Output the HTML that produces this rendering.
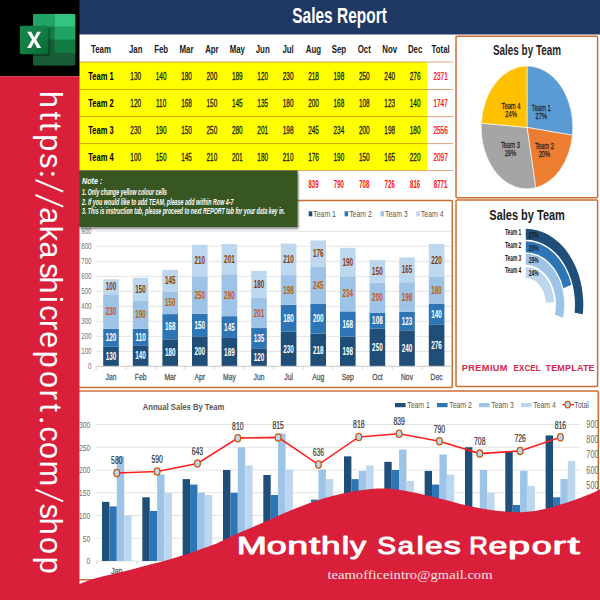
<!DOCTYPE html>
<html><head><meta charset="utf-8"><style>
html,body{margin:0;padding:0;background:#fff;width:600px;height:600px;overflow:hidden}
svg{display:block}
</style></head><body>
<svg width="600" height="600" viewBox="0 0 600 600">
<rect x="0.00" y="0.00" width="600.00" height="600.00" fill="#FFFFFF" />
<rect x="79.00" y="0.00" width="521.00" height="34.50" fill="#1F3864" />
<text x="292.30" y="23.30" font-family='"Liberation Sans", sans-serif' font-size="22" font-weight="bold" fill="#FFFFFF" text-anchor="start" textLength="94.50" lengthAdjust="spacingAndGlyphs" >Sales Report</text>
<rect x="79.00" y="62.00" width="348.30" height="108.40" fill="#FFFF00" />
<text transform="translate(101.00,52.50) scale(0.770,1)" font-family='"Liberation Sans", sans-serif' font-size="10.2" font-weight="bold" fill="#1A1A1A" text-anchor="middle" >Team</text>
<text transform="translate(135.70,52.50) scale(0.770,1)" font-family='"Liberation Sans", sans-serif' font-size="10.2" font-weight="bold" fill="#1A1A1A" text-anchor="middle" >Jan</text>
<text transform="translate(161.10,52.50) scale(0.770,1)" font-family='"Liberation Sans", sans-serif' font-size="10.2" font-weight="bold" fill="#1A1A1A" text-anchor="middle" >Feb</text>
<text transform="translate(186.50,52.50) scale(0.770,1)" font-family='"Liberation Sans", sans-serif' font-size="10.2" font-weight="bold" fill="#1A1A1A" text-anchor="middle" >Mar</text>
<text transform="translate(211.90,52.50) scale(0.770,1)" font-family='"Liberation Sans", sans-serif' font-size="10.2" font-weight="bold" fill="#1A1A1A" text-anchor="middle" >Apr</text>
<text transform="translate(237.30,52.50) scale(0.770,1)" font-family='"Liberation Sans", sans-serif' font-size="10.2" font-weight="bold" fill="#1A1A1A" text-anchor="middle" >May</text>
<text transform="translate(262.70,52.50) scale(0.770,1)" font-family='"Liberation Sans", sans-serif' font-size="10.2" font-weight="bold" fill="#1A1A1A" text-anchor="middle" >Jun</text>
<text transform="translate(288.10,52.50) scale(0.770,1)" font-family='"Liberation Sans", sans-serif' font-size="10.2" font-weight="bold" fill="#1A1A1A" text-anchor="middle" >Jul</text>
<text transform="translate(313.50,52.50) scale(0.770,1)" font-family='"Liberation Sans", sans-serif' font-size="10.2" font-weight="bold" fill="#1A1A1A" text-anchor="middle" >Aug</text>
<text transform="translate(338.90,52.50) scale(0.770,1)" font-family='"Liberation Sans", sans-serif' font-size="10.2" font-weight="bold" fill="#1A1A1A" text-anchor="middle" >Sep</text>
<text transform="translate(364.30,52.50) scale(0.770,1)" font-family='"Liberation Sans", sans-serif' font-size="10.2" font-weight="bold" fill="#1A1A1A" text-anchor="middle" >Oct</text>
<text transform="translate(389.70,52.50) scale(0.770,1)" font-family='"Liberation Sans", sans-serif' font-size="10.2" font-weight="bold" fill="#1A1A1A" text-anchor="middle" >Nov</text>
<text transform="translate(415.10,52.50) scale(0.770,1)" font-family='"Liberation Sans", sans-serif' font-size="10.2" font-weight="bold" fill="#1A1A1A" text-anchor="middle" >Dec</text>
<text transform="translate(440.60,52.50) scale(0.770,1)" font-family='"Liberation Sans", sans-serif' font-size="10.2" font-weight="bold" fill="#1A1A1A" text-anchor="middle" >Total</text>
<text transform="translate(101.00,79.70) scale(0.740,1)" font-family='"Liberation Sans", sans-serif' font-size="10.2" font-weight="bold" fill="#000000" text-anchor="middle" >Team 1</text>
<text transform="translate(135.70,79.70) scale(0.620,1)" font-family='"Liberation Sans", sans-serif' font-size="10.4" font-weight="normal" fill="#1A1A1A" text-anchor="middle" stroke="#1A1A1A" stroke-width="0.3">130</text>
<text transform="translate(161.10,79.70) scale(0.620,1)" font-family='"Liberation Sans", sans-serif' font-size="10.4" font-weight="normal" fill="#1A1A1A" text-anchor="middle" stroke="#1A1A1A" stroke-width="0.3">140</text>
<text transform="translate(186.50,79.70) scale(0.620,1)" font-family='"Liberation Sans", sans-serif' font-size="10.4" font-weight="normal" fill="#1A1A1A" text-anchor="middle" stroke="#1A1A1A" stroke-width="0.3">180</text>
<text transform="translate(211.90,79.70) scale(0.620,1)" font-family='"Liberation Sans", sans-serif' font-size="10.4" font-weight="normal" fill="#1A1A1A" text-anchor="middle" stroke="#1A1A1A" stroke-width="0.3">200</text>
<text transform="translate(237.30,79.70) scale(0.620,1)" font-family='"Liberation Sans", sans-serif' font-size="10.4" font-weight="normal" fill="#1A1A1A" text-anchor="middle" stroke="#1A1A1A" stroke-width="0.3">189</text>
<text transform="translate(262.70,79.70) scale(0.620,1)" font-family='"Liberation Sans", sans-serif' font-size="10.4" font-weight="normal" fill="#1A1A1A" text-anchor="middle" stroke="#1A1A1A" stroke-width="0.3">120</text>
<text transform="translate(288.10,79.70) scale(0.620,1)" font-family='"Liberation Sans", sans-serif' font-size="10.4" font-weight="normal" fill="#1A1A1A" text-anchor="middle" stroke="#1A1A1A" stroke-width="0.3">230</text>
<text transform="translate(313.50,79.70) scale(0.620,1)" font-family='"Liberation Sans", sans-serif' font-size="10.4" font-weight="normal" fill="#1A1A1A" text-anchor="middle" stroke="#1A1A1A" stroke-width="0.3">218</text>
<text transform="translate(338.90,79.70) scale(0.620,1)" font-family='"Liberation Sans", sans-serif' font-size="10.4" font-weight="normal" fill="#1A1A1A" text-anchor="middle" stroke="#1A1A1A" stroke-width="0.3">198</text>
<text transform="translate(364.30,79.70) scale(0.620,1)" font-family='"Liberation Sans", sans-serif' font-size="10.4" font-weight="normal" fill="#1A1A1A" text-anchor="middle" stroke="#1A1A1A" stroke-width="0.3">250</text>
<text transform="translate(389.70,79.70) scale(0.620,1)" font-family='"Liberation Sans", sans-serif' font-size="10.4" font-weight="normal" fill="#1A1A1A" text-anchor="middle" stroke="#1A1A1A" stroke-width="0.3">240</text>
<text transform="translate(415.10,79.70) scale(0.620,1)" font-family='"Liberation Sans", sans-serif' font-size="10.4" font-weight="normal" fill="#1A1A1A" text-anchor="middle" stroke="#1A1A1A" stroke-width="0.3">276</text>
<text transform="translate(440.60,79.70) scale(0.630,1)" font-family='"Liberation Sans", sans-serif' font-size="10.2" font-weight="normal" fill="#FF0000" text-anchor="middle" stroke="#FF0000" stroke-width="0.25">2371</text>
<text transform="translate(101.00,106.80) scale(0.740,1)" font-family='"Liberation Sans", sans-serif' font-size="10.2" font-weight="bold" fill="#000000" text-anchor="middle" >Team 2</text>
<text transform="translate(135.70,106.80) scale(0.620,1)" font-family='"Liberation Sans", sans-serif' font-size="10.4" font-weight="normal" fill="#1A1A1A" text-anchor="middle" stroke="#1A1A1A" stroke-width="0.3">120</text>
<text transform="translate(161.10,106.80) scale(0.620,1)" font-family='"Liberation Sans", sans-serif' font-size="10.4" font-weight="normal" fill="#1A1A1A" text-anchor="middle" stroke="#1A1A1A" stroke-width="0.3">110</text>
<text transform="translate(186.50,106.80) scale(0.620,1)" font-family='"Liberation Sans", sans-serif' font-size="10.4" font-weight="normal" fill="#1A1A1A" text-anchor="middle" stroke="#1A1A1A" stroke-width="0.3">168</text>
<text transform="translate(211.90,106.80) scale(0.620,1)" font-family='"Liberation Sans", sans-serif' font-size="10.4" font-weight="normal" fill="#1A1A1A" text-anchor="middle" stroke="#1A1A1A" stroke-width="0.3">150</text>
<text transform="translate(237.30,106.80) scale(0.620,1)" font-family='"Liberation Sans", sans-serif' font-size="10.4" font-weight="normal" fill="#1A1A1A" text-anchor="middle" stroke="#1A1A1A" stroke-width="0.3">145</text>
<text transform="translate(262.70,106.80) scale(0.620,1)" font-family='"Liberation Sans", sans-serif' font-size="10.4" font-weight="normal" fill="#1A1A1A" text-anchor="middle" stroke="#1A1A1A" stroke-width="0.3">135</text>
<text transform="translate(288.10,106.80) scale(0.620,1)" font-family='"Liberation Sans", sans-serif' font-size="10.4" font-weight="normal" fill="#1A1A1A" text-anchor="middle" stroke="#1A1A1A" stroke-width="0.3">180</text>
<text transform="translate(313.50,106.80) scale(0.620,1)" font-family='"Liberation Sans", sans-serif' font-size="10.4" font-weight="normal" fill="#1A1A1A" text-anchor="middle" stroke="#1A1A1A" stroke-width="0.3">200</text>
<text transform="translate(338.90,106.80) scale(0.620,1)" font-family='"Liberation Sans", sans-serif' font-size="10.4" font-weight="normal" fill="#1A1A1A" text-anchor="middle" stroke="#1A1A1A" stroke-width="0.3">168</text>
<text transform="translate(364.30,106.80) scale(0.620,1)" font-family='"Liberation Sans", sans-serif' font-size="10.4" font-weight="normal" fill="#1A1A1A" text-anchor="middle" stroke="#1A1A1A" stroke-width="0.3">108</text>
<text transform="translate(389.70,106.80) scale(0.620,1)" font-family='"Liberation Sans", sans-serif' font-size="10.4" font-weight="normal" fill="#1A1A1A" text-anchor="middle" stroke="#1A1A1A" stroke-width="0.3">123</text>
<text transform="translate(415.10,106.80) scale(0.620,1)" font-family='"Liberation Sans", sans-serif' font-size="10.4" font-weight="normal" fill="#1A1A1A" text-anchor="middle" stroke="#1A1A1A" stroke-width="0.3">140</text>
<text transform="translate(440.60,106.80) scale(0.630,1)" font-family='"Liberation Sans", sans-serif' font-size="10.2" font-weight="normal" fill="#FF0000" text-anchor="middle" stroke="#FF0000" stroke-width="0.25">1747</text>
<text transform="translate(101.00,133.90) scale(0.740,1)" font-family='"Liberation Sans", sans-serif' font-size="10.2" font-weight="bold" fill="#000000" text-anchor="middle" >Team 3</text>
<text transform="translate(135.70,133.90) scale(0.620,1)" font-family='"Liberation Sans", sans-serif' font-size="10.4" font-weight="normal" fill="#1A1A1A" text-anchor="middle" stroke="#1A1A1A" stroke-width="0.3">230</text>
<text transform="translate(161.10,133.90) scale(0.620,1)" font-family='"Liberation Sans", sans-serif' font-size="10.4" font-weight="normal" fill="#1A1A1A" text-anchor="middle" stroke="#1A1A1A" stroke-width="0.3">190</text>
<text transform="translate(186.50,133.90) scale(0.620,1)" font-family='"Liberation Sans", sans-serif' font-size="10.4" font-weight="normal" fill="#1A1A1A" text-anchor="middle" stroke="#1A1A1A" stroke-width="0.3">150</text>
<text transform="translate(211.90,133.90) scale(0.620,1)" font-family='"Liberation Sans", sans-serif' font-size="10.4" font-weight="normal" fill="#1A1A1A" text-anchor="middle" stroke="#1A1A1A" stroke-width="0.3">250</text>
<text transform="translate(237.30,133.90) scale(0.620,1)" font-family='"Liberation Sans", sans-serif' font-size="10.4" font-weight="normal" fill="#1A1A1A" text-anchor="middle" stroke="#1A1A1A" stroke-width="0.3">280</text>
<text transform="translate(262.70,133.90) scale(0.620,1)" font-family='"Liberation Sans", sans-serif' font-size="10.4" font-weight="normal" fill="#1A1A1A" text-anchor="middle" stroke="#1A1A1A" stroke-width="0.3">201</text>
<text transform="translate(288.10,133.90) scale(0.620,1)" font-family='"Liberation Sans", sans-serif' font-size="10.4" font-weight="normal" fill="#1A1A1A" text-anchor="middle" stroke="#1A1A1A" stroke-width="0.3">198</text>
<text transform="translate(313.50,133.90) scale(0.620,1)" font-family='"Liberation Sans", sans-serif' font-size="10.4" font-weight="normal" fill="#1A1A1A" text-anchor="middle" stroke="#1A1A1A" stroke-width="0.3">245</text>
<text transform="translate(338.90,133.90) scale(0.620,1)" font-family='"Liberation Sans", sans-serif' font-size="10.4" font-weight="normal" fill="#1A1A1A" text-anchor="middle" stroke="#1A1A1A" stroke-width="0.3">234</text>
<text transform="translate(364.30,133.90) scale(0.620,1)" font-family='"Liberation Sans", sans-serif' font-size="10.4" font-weight="normal" fill="#1A1A1A" text-anchor="middle" stroke="#1A1A1A" stroke-width="0.3">200</text>
<text transform="translate(389.70,133.90) scale(0.620,1)" font-family='"Liberation Sans", sans-serif' font-size="10.4" font-weight="normal" fill="#1A1A1A" text-anchor="middle" stroke="#1A1A1A" stroke-width="0.3">198</text>
<text transform="translate(415.10,133.90) scale(0.620,1)" font-family='"Liberation Sans", sans-serif' font-size="10.4" font-weight="normal" fill="#1A1A1A" text-anchor="middle" stroke="#1A1A1A" stroke-width="0.3">180</text>
<text transform="translate(440.60,133.90) scale(0.630,1)" font-family='"Liberation Sans", sans-serif' font-size="10.2" font-weight="normal" fill="#FF0000" text-anchor="middle" stroke="#FF0000" stroke-width="0.25">2556</text>
<text transform="translate(101.00,160.90) scale(0.740,1)" font-family='"Liberation Sans", sans-serif' font-size="10.2" font-weight="bold" fill="#000000" text-anchor="middle" >Team 4</text>
<text transform="translate(135.70,160.90) scale(0.620,1)" font-family='"Liberation Sans", sans-serif' font-size="10.4" font-weight="normal" fill="#1A1A1A" text-anchor="middle" stroke="#1A1A1A" stroke-width="0.3">100</text>
<text transform="translate(161.10,160.90) scale(0.620,1)" font-family='"Liberation Sans", sans-serif' font-size="10.4" font-weight="normal" fill="#1A1A1A" text-anchor="middle" stroke="#1A1A1A" stroke-width="0.3">150</text>
<text transform="translate(186.50,160.90) scale(0.620,1)" font-family='"Liberation Sans", sans-serif' font-size="10.4" font-weight="normal" fill="#1A1A1A" text-anchor="middle" stroke="#1A1A1A" stroke-width="0.3">145</text>
<text transform="translate(211.90,160.90) scale(0.620,1)" font-family='"Liberation Sans", sans-serif' font-size="10.4" font-weight="normal" fill="#1A1A1A" text-anchor="middle" stroke="#1A1A1A" stroke-width="0.3">210</text>
<text transform="translate(237.30,160.90) scale(0.620,1)" font-family='"Liberation Sans", sans-serif' font-size="10.4" font-weight="normal" fill="#1A1A1A" text-anchor="middle" stroke="#1A1A1A" stroke-width="0.3">201</text>
<text transform="translate(262.70,160.90) scale(0.620,1)" font-family='"Liberation Sans", sans-serif' font-size="10.4" font-weight="normal" fill="#1A1A1A" text-anchor="middle" stroke="#1A1A1A" stroke-width="0.3">180</text>
<text transform="translate(288.10,160.90) scale(0.620,1)" font-family='"Liberation Sans", sans-serif' font-size="10.4" font-weight="normal" fill="#1A1A1A" text-anchor="middle" stroke="#1A1A1A" stroke-width="0.3">210</text>
<text transform="translate(313.50,160.90) scale(0.620,1)" font-family='"Liberation Sans", sans-serif' font-size="10.4" font-weight="normal" fill="#1A1A1A" text-anchor="middle" stroke="#1A1A1A" stroke-width="0.3">176</text>
<text transform="translate(338.90,160.90) scale(0.620,1)" font-family='"Liberation Sans", sans-serif' font-size="10.4" font-weight="normal" fill="#1A1A1A" text-anchor="middle" stroke="#1A1A1A" stroke-width="0.3">190</text>
<text transform="translate(364.30,160.90) scale(0.620,1)" font-family='"Liberation Sans", sans-serif' font-size="10.4" font-weight="normal" fill="#1A1A1A" text-anchor="middle" stroke="#1A1A1A" stroke-width="0.3">150</text>
<text transform="translate(389.70,160.90) scale(0.620,1)" font-family='"Liberation Sans", sans-serif' font-size="10.4" font-weight="normal" fill="#1A1A1A" text-anchor="middle" stroke="#1A1A1A" stroke-width="0.3">165</text>
<text transform="translate(415.10,160.90) scale(0.620,1)" font-family='"Liberation Sans", sans-serif' font-size="10.4" font-weight="normal" fill="#1A1A1A" text-anchor="middle" stroke="#1A1A1A" stroke-width="0.3">220</text>
<text transform="translate(440.60,160.90) scale(0.630,1)" font-family='"Liberation Sans", sans-serif' font-size="10.2" font-weight="normal" fill="#FF0000" text-anchor="middle" stroke="#FF0000" stroke-width="0.25">2097</text>
<text transform="translate(135.70,188.30) scale(0.600,1)" font-family='"Liberation Sans", sans-serif' font-size="10.2" font-weight="bold" fill="#FF1010" text-anchor="middle" >580</text>
<text transform="translate(161.10,188.30) scale(0.600,1)" font-family='"Liberation Sans", sans-serif' font-size="10.2" font-weight="bold" fill="#FF1010" text-anchor="middle" >590</text>
<text transform="translate(186.50,188.30) scale(0.600,1)" font-family='"Liberation Sans", sans-serif' font-size="10.2" font-weight="bold" fill="#FF1010" text-anchor="middle" >643</text>
<text transform="translate(211.90,188.30) scale(0.600,1)" font-family='"Liberation Sans", sans-serif' font-size="10.2" font-weight="bold" fill="#FF1010" text-anchor="middle" >810</text>
<text transform="translate(237.30,188.30) scale(0.600,1)" font-family='"Liberation Sans", sans-serif' font-size="10.2" font-weight="bold" fill="#FF1010" text-anchor="middle" >815</text>
<text transform="translate(262.70,188.30) scale(0.600,1)" font-family='"Liberation Sans", sans-serif' font-size="10.2" font-weight="bold" fill="#FF1010" text-anchor="middle" >636</text>
<text transform="translate(288.10,188.30) scale(0.600,1)" font-family='"Liberation Sans", sans-serif' font-size="10.2" font-weight="bold" fill="#FF1010" text-anchor="middle" >818</text>
<text transform="translate(313.50,188.30) scale(0.600,1)" font-family='"Liberation Sans", sans-serif' font-size="10.2" font-weight="bold" fill="#FF1010" text-anchor="middle" >839</text>
<text transform="translate(338.90,188.30) scale(0.600,1)" font-family='"Liberation Sans", sans-serif' font-size="10.2" font-weight="bold" fill="#FF1010" text-anchor="middle" >790</text>
<text transform="translate(364.30,188.30) scale(0.600,1)" font-family='"Liberation Sans", sans-serif' font-size="10.2" font-weight="bold" fill="#FF1010" text-anchor="middle" >708</text>
<text transform="translate(389.70,188.30) scale(0.600,1)" font-family='"Liberation Sans", sans-serif' font-size="10.2" font-weight="bold" fill="#FF1010" text-anchor="middle" >726</text>
<text transform="translate(415.10,188.30) scale(0.600,1)" font-family='"Liberation Sans", sans-serif' font-size="10.2" font-weight="bold" fill="#FF1010" text-anchor="middle" >816</text>
<text transform="translate(440.60,188.30) scale(0.600,1)" font-family='"Liberation Sans", sans-serif' font-size="10.2" font-weight="bold" fill="#FF1010" text-anchor="middle" >8771</text>
<line x1="79.00" y1="62.00" x2="453.00" y2="62.00" stroke="#C55A11" stroke-width="1" stroke-opacity="0.55"/>
<line x1="79.00" y1="89.50" x2="453.00" y2="89.50" stroke="#C55A11" stroke-width="1" stroke-opacity="0.55"/>
<line x1="79.00" y1="116.60" x2="453.00" y2="116.60" stroke="#C55A11" stroke-width="1" stroke-opacity="0.55"/>
<line x1="79.00" y1="143.60" x2="453.00" y2="143.60" stroke="#C55A11" stroke-width="1" stroke-opacity="0.55"/>
<line x1="79.00" y1="170.60" x2="453.00" y2="170.60" stroke="#C55A11" stroke-width="1" stroke-opacity="0.55"/>
<rect x="456" y="36.2" width="141.6" height="161.5" rx="1.2" fill="#FFFFFF" stroke="#CD6E33" stroke-width="1.5"/>
<text x="493.00" y="55.10" font-family='"Liberation Sans", sans-serif' font-size="15" font-weight="bold" fill="#1F1F1F" text-anchor="start" textLength="68.00" lengthAdjust="spacingAndGlyphs" >Sales by Team</text>
<path d="M527.0,127.4 L527.00,66.00 A45.8,61.4 0 0 1 572.43,135.22 Z" fill="#5B9BD5" stroke="#FFFFFF" stroke-width="0.6" stroke-linejoin="round"/>
<path d="M527.0,127.4 L572.43,135.22 A45.8,61.4 0 0 1 535.72,187.68 Z" fill="#ED7D31" stroke="#FFFFFF" stroke-width="0.6" stroke-linejoin="round"/>
<path d="M527.0,127.4 L535.72,187.68 A45.8,61.4 0 0 1 481.31,123.19 Z" fill="#A5A5A5" stroke="#FFFFFF" stroke-width="0.6" stroke-linejoin="round"/>
<path d="M527.0,127.4 L481.31,123.19 A45.8,61.4 0 0 1 527.00,66.00 Z" fill="#FFC000" stroke="#FFFFFF" stroke-width="0.6" stroke-linejoin="round"/>
<text transform="translate(541.30,111.00) scale(0.640,1)" font-family='"Liberation Sans", sans-serif' font-size="9" font-weight="normal" fill="#262626" text-anchor="middle" stroke="#262626" stroke-width="0.25">Team 1</text>
<text transform="translate(541.30,119.30) scale(0.640,1)" font-family='"Liberation Sans", sans-serif' font-size="9" font-weight="normal" fill="#262626" text-anchor="middle" stroke="#262626" stroke-width="0.25">27%</text>
<text transform="translate(544.40,148.90) scale(0.640,1)" font-family='"Liberation Sans", sans-serif' font-size="9" font-weight="normal" fill="#262626" text-anchor="middle" stroke="#262626" stroke-width="0.25">Team 2</text>
<text transform="translate(544.40,157.20) scale(0.640,1)" font-family='"Liberation Sans", sans-serif' font-size="9" font-weight="normal" fill="#262626" text-anchor="middle" stroke="#262626" stroke-width="0.25">20%</text>
<text transform="translate(510.40,148.10) scale(0.640,1)" font-family='"Liberation Sans", sans-serif' font-size="9" font-weight="normal" fill="#262626" text-anchor="middle" stroke="#262626" stroke-width="0.25">Team 3</text>
<text transform="translate(510.40,156.40) scale(0.640,1)" font-family='"Liberation Sans", sans-serif' font-size="9" font-weight="normal" fill="#262626" text-anchor="middle" stroke="#262626" stroke-width="0.25">29%</text>
<text transform="translate(511.00,108.70) scale(0.640,1)" font-family='"Liberation Sans", sans-serif' font-size="9" font-weight="normal" fill="#262626" text-anchor="middle" stroke="#262626" stroke-width="0.25">Team 4</text>
<text transform="translate(511.00,117.00) scale(0.640,1)" font-family='"Liberation Sans", sans-serif' font-size="9" font-weight="normal" fill="#262626" text-anchor="middle" stroke="#262626" stroke-width="0.25">24%</text>
<defs><filter id="sh" x="-5%" y="-5%" width="110%" height="130%"><feGaussianBlur in="SourceAlpha" stdDeviation="1.2"/><feOffset dx="1" dy="2"/><feComponentTransfer><feFuncA type="linear" slope="0.45"/></feComponentTransfer><feMerge><feMergeNode/><feMergeNode in="SourceGraphic"/></feMerge></filter></defs>
<rect x="60" y="200.5" width="392.3" height="187.1" rx="1.2" fill="#FFFFFF" stroke="#CD6E33" stroke-width="1.5"/>
<line x1="96.30" y1="366.30" x2="451.00" y2="366.30" stroke="#E3E3E3" stroke-width="1" />
<text transform="translate(91.50,369.10) scale(0.750,1)" font-family='"Liberation Sans", sans-serif' font-size="8.2" font-weight="normal" fill="#707070" text-anchor="end" >0</text>
<line x1="96.30" y1="351.30" x2="451.00" y2="351.30" stroke="#E3E3E3" stroke-width="1" />
<text transform="translate(91.50,354.10) scale(0.750,1)" font-family='"Liberation Sans", sans-serif' font-size="8.2" font-weight="normal" fill="#707070" text-anchor="end" >100</text>
<line x1="96.30" y1="336.30" x2="451.00" y2="336.30" stroke="#E3E3E3" stroke-width="1" />
<text transform="translate(91.50,339.10) scale(0.750,1)" font-family='"Liberation Sans", sans-serif' font-size="8.2" font-weight="normal" fill="#707070" text-anchor="end" >200</text>
<line x1="96.30" y1="321.30" x2="451.00" y2="321.30" stroke="#E3E3E3" stroke-width="1" />
<text transform="translate(91.50,324.10) scale(0.750,1)" font-family='"Liberation Sans", sans-serif' font-size="8.2" font-weight="normal" fill="#707070" text-anchor="end" >300</text>
<line x1="96.30" y1="306.30" x2="451.00" y2="306.30" stroke="#E3E3E3" stroke-width="1" />
<text transform="translate(91.50,309.10) scale(0.750,1)" font-family='"Liberation Sans", sans-serif' font-size="8.2" font-weight="normal" fill="#707070" text-anchor="end" >400</text>
<line x1="96.30" y1="291.30" x2="451.00" y2="291.30" stroke="#E3E3E3" stroke-width="1" />
<text transform="translate(91.50,294.10) scale(0.750,1)" font-family='"Liberation Sans", sans-serif' font-size="8.2" font-weight="normal" fill="#707070" text-anchor="end" >500</text>
<line x1="96.30" y1="276.30" x2="451.00" y2="276.30" stroke="#E3E3E3" stroke-width="1" />
<text transform="translate(91.50,279.10) scale(0.750,1)" font-family='"Liberation Sans", sans-serif' font-size="8.2" font-weight="normal" fill="#707070" text-anchor="end" >600</text>
<line x1="96.30" y1="261.30" x2="451.00" y2="261.30" stroke="#E3E3E3" stroke-width="1" />
<text transform="translate(91.50,264.10) scale(0.750,1)" font-family='"Liberation Sans", sans-serif' font-size="8.2" font-weight="normal" fill="#707070" text-anchor="end" >700</text>
<line x1="96.30" y1="246.30" x2="451.00" y2="246.30" stroke="#E3E3E3" stroke-width="1" />
<text transform="translate(91.50,249.10) scale(0.750,1)" font-family='"Liberation Sans", sans-serif' font-size="8.2" font-weight="normal" fill="#707070" text-anchor="end" >800</text>
<line x1="96.30" y1="231.30" x2="451.00" y2="231.30" stroke="#E3E3E3" stroke-width="1" />
<text transform="translate(91.50,234.10) scale(0.750,1)" font-family='"Liberation Sans", sans-serif' font-size="8.2" font-weight="normal" fill="#707070" text-anchor="end" >900</text>
<rect x="103.20" y="346.80" width="15.60" height="19.50" fill="#1F4E79" />
<text transform="translate(111.00,360.15) scale(0.610,1)" font-family='"Liberation Sans", sans-serif' font-size="10.4" font-weight="bold" fill="#FFFFFF" text-anchor="middle" >130</text>
<rect x="103.20" y="328.80" width="15.60" height="18.00" fill="#2E75B6" />
<text transform="translate(111.00,341.40) scale(0.610,1)" font-family='"Liberation Sans", sans-serif' font-size="10.4" font-weight="bold" fill="#FFFFFF" text-anchor="middle" >120</text>
<rect x="103.20" y="294.30" width="15.60" height="34.50" fill="#9DC3E6" />
<text transform="translate(111.00,315.15) scale(0.610,1)" font-family='"Liberation Sans", sans-serif' font-size="10.4" font-weight="bold" fill="#C55A11" text-anchor="middle" >230</text>
<rect x="103.20" y="279.30" width="15.60" height="15.00" fill="#BDD7EE" />
<text transform="translate(111.00,290.40) scale(0.610,1)" font-family='"Liberation Sans", sans-serif' font-size="10.4" font-weight="bold" fill="#843C0C" text-anchor="middle" >100</text>
<text transform="translate(111.00,380.00) scale(0.720,1)" font-family='"Liberation Sans", sans-serif' font-size="9.4" font-weight="normal" fill="#595959" text-anchor="middle" stroke="#595959" stroke-width="0.3">Jan</text>
<rect x="132.80" y="345.30" width="15.60" height="21.00" fill="#1F4E79" />
<text transform="translate(140.60,359.40) scale(0.610,1)" font-family='"Liberation Sans", sans-serif' font-size="10.4" font-weight="bold" fill="#FFFFFF" text-anchor="middle" >140</text>
<rect x="132.80" y="328.80" width="15.60" height="16.50" fill="#2E75B6" />
<text transform="translate(140.60,340.65) scale(0.610,1)" font-family='"Liberation Sans", sans-serif' font-size="10.4" font-weight="bold" fill="#FFFFFF" text-anchor="middle" >110</text>
<rect x="132.80" y="300.30" width="15.60" height="28.50" fill="#9DC3E6" />
<text transform="translate(140.60,318.15) scale(0.610,1)" font-family='"Liberation Sans", sans-serif' font-size="10.4" font-weight="bold" fill="#C55A11" text-anchor="middle" >190</text>
<rect x="132.80" y="277.80" width="15.60" height="22.50" fill="#BDD7EE" />
<text transform="translate(140.60,292.65) scale(0.610,1)" font-family='"Liberation Sans", sans-serif' font-size="10.4" font-weight="bold" fill="#843C0C" text-anchor="middle" >150</text>
<text transform="translate(140.60,380.00) scale(0.720,1)" font-family='"Liberation Sans", sans-serif' font-size="9.4" font-weight="normal" fill="#595959" text-anchor="middle" stroke="#595959" stroke-width="0.3">Feb</text>
<rect x="162.40" y="339.30" width="15.60" height="27.00" fill="#1F4E79" />
<text transform="translate(170.20,356.40) scale(0.610,1)" font-family='"Liberation Sans", sans-serif' font-size="10.4" font-weight="bold" fill="#FFFFFF" text-anchor="middle" >180</text>
<rect x="162.40" y="314.10" width="15.60" height="25.20" fill="#2E75B6" />
<text transform="translate(170.20,330.30) scale(0.610,1)" font-family='"Liberation Sans", sans-serif' font-size="10.4" font-weight="bold" fill="#FFFFFF" text-anchor="middle" >168</text>
<rect x="162.40" y="291.60" width="15.60" height="22.50" fill="#9DC3E6" />
<text transform="translate(170.20,306.45) scale(0.610,1)" font-family='"Liberation Sans", sans-serif' font-size="10.4" font-weight="bold" fill="#C55A11" text-anchor="middle" >150</text>
<rect x="162.40" y="269.85" width="15.60" height="21.75" fill="#BDD7EE" />
<text transform="translate(170.20,284.33) scale(0.610,1)" font-family='"Liberation Sans", sans-serif' font-size="10.4" font-weight="bold" fill="#843C0C" text-anchor="middle" >145</text>
<text transform="translate(170.20,380.00) scale(0.720,1)" font-family='"Liberation Sans", sans-serif' font-size="9.4" font-weight="normal" fill="#595959" text-anchor="middle" stroke="#595959" stroke-width="0.3">Mar</text>
<rect x="192.00" y="336.30" width="15.60" height="30.00" fill="#1F4E79" />
<text transform="translate(199.80,354.90) scale(0.610,1)" font-family='"Liberation Sans", sans-serif' font-size="10.4" font-weight="bold" fill="#FFFFFF" text-anchor="middle" >200</text>
<rect x="192.00" y="313.80" width="15.60" height="22.50" fill="#2E75B6" />
<text transform="translate(199.80,328.65) scale(0.610,1)" font-family='"Liberation Sans", sans-serif' font-size="10.4" font-weight="bold" fill="#FFFFFF" text-anchor="middle" >150</text>
<rect x="192.00" y="276.30" width="15.60" height="37.50" fill="#9DC3E6" />
<text transform="translate(199.80,298.65) scale(0.610,1)" font-family='"Liberation Sans", sans-serif' font-size="10.4" font-weight="bold" fill="#C55A11" text-anchor="middle" >250</text>
<rect x="192.00" y="244.80" width="15.60" height="31.50" fill="#BDD7EE" />
<text transform="translate(199.80,264.15) scale(0.610,1)" font-family='"Liberation Sans", sans-serif' font-size="10.4" font-weight="bold" fill="#843C0C" text-anchor="middle" >210</text>
<text transform="translate(199.80,380.00) scale(0.720,1)" font-family='"Liberation Sans", sans-serif' font-size="9.4" font-weight="normal" fill="#595959" text-anchor="middle" stroke="#595959" stroke-width="0.3">Apr</text>
<rect x="221.60" y="337.95" width="15.60" height="28.35" fill="#1F4E79" />
<text transform="translate(229.40,355.73) scale(0.610,1)" font-family='"Liberation Sans", sans-serif' font-size="10.4" font-weight="bold" fill="#FFFFFF" text-anchor="middle" >189</text>
<rect x="221.60" y="316.20" width="15.60" height="21.75" fill="#2E75B6" />
<text transform="translate(229.40,330.68) scale(0.610,1)" font-family='"Liberation Sans", sans-serif' font-size="10.4" font-weight="bold" fill="#FFFFFF" text-anchor="middle" >145</text>
<rect x="221.60" y="274.20" width="15.60" height="42.00" fill="#9DC3E6" />
<text transform="translate(229.40,298.80) scale(0.610,1)" font-family='"Liberation Sans", sans-serif' font-size="10.4" font-weight="bold" fill="#C55A11" text-anchor="middle" >280</text>
<rect x="221.60" y="244.05" width="15.60" height="30.15" fill="#BDD7EE" />
<text transform="translate(229.40,262.73) scale(0.610,1)" font-family='"Liberation Sans", sans-serif' font-size="10.4" font-weight="bold" fill="#843C0C" text-anchor="middle" >201</text>
<text transform="translate(229.40,380.00) scale(0.720,1)" font-family='"Liberation Sans", sans-serif' font-size="9.4" font-weight="normal" fill="#595959" text-anchor="middle" stroke="#595959" stroke-width="0.3">May</text>
<rect x="251.20" y="348.30" width="15.60" height="18.00" fill="#1F4E79" />
<text transform="translate(259.00,360.90) scale(0.610,1)" font-family='"Liberation Sans", sans-serif' font-size="10.4" font-weight="bold" fill="#FFFFFF" text-anchor="middle" >120</text>
<rect x="251.20" y="328.05" width="15.60" height="20.25" fill="#2E75B6" />
<text transform="translate(259.00,341.78) scale(0.610,1)" font-family='"Liberation Sans", sans-serif' font-size="10.4" font-weight="bold" fill="#FFFFFF" text-anchor="middle" >135</text>
<rect x="251.20" y="297.90" width="15.60" height="30.15" fill="#9DC3E6" />
<text transform="translate(259.00,316.58) scale(0.610,1)" font-family='"Liberation Sans", sans-serif' font-size="10.4" font-weight="bold" fill="#C55A11" text-anchor="middle" >201</text>
<rect x="251.20" y="270.90" width="15.60" height="27.00" fill="#BDD7EE" />
<text transform="translate(259.00,288.00) scale(0.610,1)" font-family='"Liberation Sans", sans-serif' font-size="10.4" font-weight="bold" fill="#843C0C" text-anchor="middle" >180</text>
<text transform="translate(259.00,380.00) scale(0.720,1)" font-family='"Liberation Sans", sans-serif' font-size="9.4" font-weight="normal" fill="#595959" text-anchor="middle" stroke="#595959" stroke-width="0.3">Jun</text>
<rect x="280.80" y="331.80" width="15.60" height="34.50" fill="#1F4E79" />
<text transform="translate(288.60,352.65) scale(0.610,1)" font-family='"Liberation Sans", sans-serif' font-size="10.4" font-weight="bold" fill="#FFFFFF" text-anchor="middle" >230</text>
<rect x="280.80" y="304.80" width="15.60" height="27.00" fill="#2E75B6" />
<text transform="translate(288.60,321.90) scale(0.610,1)" font-family='"Liberation Sans", sans-serif' font-size="10.4" font-weight="bold" fill="#FFFFFF" text-anchor="middle" >180</text>
<rect x="280.80" y="275.10" width="15.60" height="29.70" fill="#9DC3E6" />
<text transform="translate(288.60,293.55) scale(0.610,1)" font-family='"Liberation Sans", sans-serif' font-size="10.4" font-weight="bold" fill="#C55A11" text-anchor="middle" >198</text>
<rect x="280.80" y="243.60" width="15.60" height="31.50" fill="#BDD7EE" />
<text transform="translate(288.60,262.95) scale(0.610,1)" font-family='"Liberation Sans", sans-serif' font-size="10.4" font-weight="bold" fill="#843C0C" text-anchor="middle" >210</text>
<text transform="translate(288.60,380.00) scale(0.720,1)" font-family='"Liberation Sans", sans-serif' font-size="9.4" font-weight="normal" fill="#595959" text-anchor="middle" stroke="#595959" stroke-width="0.3">Jul</text>
<rect x="310.40" y="333.60" width="15.60" height="32.70" fill="#1F4E79" />
<text transform="translate(318.20,353.55) scale(0.610,1)" font-family='"Liberation Sans", sans-serif' font-size="10.4" font-weight="bold" fill="#FFFFFF" text-anchor="middle" >218</text>
<rect x="310.40" y="303.60" width="15.60" height="30.00" fill="#2E75B6" />
<text transform="translate(318.20,322.20) scale(0.610,1)" font-family='"Liberation Sans", sans-serif' font-size="10.4" font-weight="bold" fill="#FFFFFF" text-anchor="middle" >200</text>
<rect x="310.40" y="266.85" width="15.60" height="36.75" fill="#9DC3E6" />
<text transform="translate(318.20,288.83) scale(0.610,1)" font-family='"Liberation Sans", sans-serif' font-size="10.4" font-weight="bold" fill="#C55A11" text-anchor="middle" >245</text>
<rect x="310.40" y="240.45" width="15.60" height="26.40" fill="#BDD7EE" />
<text transform="translate(318.20,257.25) scale(0.610,1)" font-family='"Liberation Sans", sans-serif' font-size="10.4" font-weight="bold" fill="#843C0C" text-anchor="middle" >176</text>
<text transform="translate(318.20,380.00) scale(0.720,1)" font-family='"Liberation Sans", sans-serif' font-size="9.4" font-weight="normal" fill="#595959" text-anchor="middle" stroke="#595959" stroke-width="0.3">Aug</text>
<rect x="340.00" y="336.60" width="15.60" height="29.70" fill="#1F4E79" />
<text transform="translate(347.80,355.05) scale(0.610,1)" font-family='"Liberation Sans", sans-serif' font-size="10.4" font-weight="bold" fill="#FFFFFF" text-anchor="middle" >198</text>
<rect x="340.00" y="311.40" width="15.60" height="25.20" fill="#2E75B6" />
<text transform="translate(347.80,327.60) scale(0.610,1)" font-family='"Liberation Sans", sans-serif' font-size="10.4" font-weight="bold" fill="#FFFFFF" text-anchor="middle" >168</text>
<rect x="340.00" y="276.30" width="15.60" height="35.10" fill="#9DC3E6" />
<text transform="translate(347.80,297.45) scale(0.610,1)" font-family='"Liberation Sans", sans-serif' font-size="10.4" font-weight="bold" fill="#C55A11" text-anchor="middle" >234</text>
<rect x="340.00" y="247.80" width="15.60" height="28.50" fill="#BDD7EE" />
<text transform="translate(347.80,265.65) scale(0.610,1)" font-family='"Liberation Sans", sans-serif' font-size="10.4" font-weight="bold" fill="#843C0C" text-anchor="middle" >190</text>
<text transform="translate(347.80,380.00) scale(0.720,1)" font-family='"Liberation Sans", sans-serif' font-size="9.4" font-weight="normal" fill="#595959" text-anchor="middle" stroke="#595959" stroke-width="0.3">Sep</text>
<rect x="369.60" y="328.80" width="15.60" height="37.50" fill="#1F4E79" />
<text transform="translate(377.40,351.15) scale(0.610,1)" font-family='"Liberation Sans", sans-serif' font-size="10.4" font-weight="bold" fill="#FFFFFF" text-anchor="middle" >250</text>
<rect x="369.60" y="312.60" width="15.60" height="16.20" fill="#2E75B6" />
<text transform="translate(377.40,324.30) scale(0.610,1)" font-family='"Liberation Sans", sans-serif' font-size="10.4" font-weight="bold" fill="#FFFFFF" text-anchor="middle" >108</text>
<rect x="369.60" y="282.60" width="15.60" height="30.00" fill="#9DC3E6" />
<text transform="translate(377.40,301.20) scale(0.610,1)" font-family='"Liberation Sans", sans-serif' font-size="10.4" font-weight="bold" fill="#C55A11" text-anchor="middle" >200</text>
<rect x="369.60" y="260.10" width="15.60" height="22.50" fill="#BDD7EE" />
<text transform="translate(377.40,274.95) scale(0.610,1)" font-family='"Liberation Sans", sans-serif' font-size="10.4" font-weight="bold" fill="#843C0C" text-anchor="middle" >150</text>
<text transform="translate(377.40,380.00) scale(0.720,1)" font-family='"Liberation Sans", sans-serif' font-size="9.4" font-weight="normal" fill="#595959" text-anchor="middle" stroke="#595959" stroke-width="0.3">Oct</text>
<rect x="399.20" y="330.30" width="15.60" height="36.00" fill="#1F4E79" />
<text transform="translate(407.00,351.90) scale(0.610,1)" font-family='"Liberation Sans", sans-serif' font-size="10.4" font-weight="bold" fill="#FFFFFF" text-anchor="middle" >240</text>
<rect x="399.20" y="311.85" width="15.60" height="18.45" fill="#2E75B6" />
<text transform="translate(407.00,324.68) scale(0.610,1)" font-family='"Liberation Sans", sans-serif' font-size="10.4" font-weight="bold" fill="#FFFFFF" text-anchor="middle" >123</text>
<rect x="399.20" y="282.15" width="15.60" height="29.70" fill="#9DC3E6" />
<text transform="translate(407.00,300.60) scale(0.610,1)" font-family='"Liberation Sans", sans-serif' font-size="10.4" font-weight="bold" fill="#C55A11" text-anchor="middle" >198</text>
<rect x="399.20" y="257.40" width="15.60" height="24.75" fill="#BDD7EE" />
<text transform="translate(407.00,273.38) scale(0.610,1)" font-family='"Liberation Sans", sans-serif' font-size="10.4" font-weight="bold" fill="#843C0C" text-anchor="middle" >165</text>
<text transform="translate(407.00,380.00) scale(0.720,1)" font-family='"Liberation Sans", sans-serif' font-size="9.4" font-weight="normal" fill="#595959" text-anchor="middle" stroke="#595959" stroke-width="0.3">Nov</text>
<rect x="428.80" y="324.90" width="15.60" height="41.40" fill="#1F4E79" />
<text transform="translate(436.60,349.20) scale(0.610,1)" font-family='"Liberation Sans", sans-serif' font-size="10.4" font-weight="bold" fill="#FFFFFF" text-anchor="middle" >276</text>
<rect x="428.80" y="303.90" width="15.60" height="21.00" fill="#2E75B6" />
<text transform="translate(436.60,318.00) scale(0.610,1)" font-family='"Liberation Sans", sans-serif' font-size="10.4" font-weight="bold" fill="#FFFFFF" text-anchor="middle" >140</text>
<rect x="428.80" y="276.90" width="15.60" height="27.00" fill="#9DC3E6" />
<text transform="translate(436.60,294.00) scale(0.610,1)" font-family='"Liberation Sans", sans-serif' font-size="10.4" font-weight="bold" fill="#C55A11" text-anchor="middle" >180</text>
<rect x="428.80" y="243.90" width="15.60" height="33.00" fill="#BDD7EE" />
<text transform="translate(436.60,264.00) scale(0.610,1)" font-family='"Liberation Sans", sans-serif' font-size="10.4" font-weight="bold" fill="#843C0C" text-anchor="middle" >220</text>
<text transform="translate(436.60,380.00) scale(0.720,1)" font-family='"Liberation Sans", sans-serif' font-size="9.4" font-weight="normal" fill="#595959" text-anchor="middle" stroke="#595959" stroke-width="0.3">Dec</text>
<line x1="96.30" y1="366.30" x2="451.00" y2="366.30" stroke="#D0D0D0" stroke-width="1" />
<line x1="96.20" y1="366.30" x2="96.20" y2="369.30" stroke="#D0D0D0" stroke-width="1" />
<line x1="125.80" y1="366.30" x2="125.80" y2="369.30" stroke="#D0D0D0" stroke-width="1" />
<line x1="155.40" y1="366.30" x2="155.40" y2="369.30" stroke="#D0D0D0" stroke-width="1" />
<line x1="185.00" y1="366.30" x2="185.00" y2="369.30" stroke="#D0D0D0" stroke-width="1" />
<line x1="214.60" y1="366.30" x2="214.60" y2="369.30" stroke="#D0D0D0" stroke-width="1" />
<line x1="244.20" y1="366.30" x2="244.20" y2="369.30" stroke="#D0D0D0" stroke-width="1" />
<line x1="273.80" y1="366.30" x2="273.80" y2="369.30" stroke="#D0D0D0" stroke-width="1" />
<line x1="303.40" y1="366.30" x2="303.40" y2="369.30" stroke="#D0D0D0" stroke-width="1" />
<line x1="333.00" y1="366.30" x2="333.00" y2="369.30" stroke="#D0D0D0" stroke-width="1" />
<line x1="362.60" y1="366.30" x2="362.60" y2="369.30" stroke="#D0D0D0" stroke-width="1" />
<line x1="392.20" y1="366.30" x2="392.20" y2="369.30" stroke="#D0D0D0" stroke-width="1" />
<line x1="421.80" y1="366.30" x2="421.80" y2="369.30" stroke="#D0D0D0" stroke-width="1" />
<line x1="451.40" y1="366.30" x2="451.40" y2="369.30" stroke="#D0D0D0" stroke-width="1" />
<rect x="308.70" y="211.30" width="3.60" height="5.00" fill="#1F4E79" />
<text transform="translate(313.30,216.90) scale(0.720,1)" font-family='"Liberation Sans", sans-serif' font-size="9.6" font-weight="normal" fill="#595959" text-anchor="start" >Team 1</text>
<rect x="344.55" y="211.30" width="3.60" height="5.00" fill="#2E75B6" />
<text transform="translate(349.15,216.90) scale(0.720,1)" font-family='"Liberation Sans", sans-serif' font-size="9.6" font-weight="normal" fill="#595959" text-anchor="start" >Team 2</text>
<rect x="380.40" y="211.30" width="3.60" height="5.00" fill="#9DC3E6" />
<text transform="translate(385.00,216.90) scale(0.720,1)" font-family='"Liberation Sans", sans-serif' font-size="9.6" font-weight="normal" fill="#595959" text-anchor="start" >Team 3</text>
<rect x="416.25" y="211.30" width="3.60" height="5.00" fill="#BDD7EE" />
<text transform="translate(420.85,216.90) scale(0.720,1)" font-family='"Liberation Sans", sans-serif' font-size="9.6" font-weight="normal" fill="#595959" text-anchor="start" >Team 4</text>
<g filter="url(#sh)">
<rect x="79.00" y="170.40" width="218.60" height="56.60" fill="#375623" />
</g>
<text transform="translate(82.00,183.60) scale(0.780,1)" font-family='"Liberation Sans", sans-serif' font-size="9.2" font-weight="bold" font-style="italic" fill="#FFFFFF" text-anchor="start" >Note :</text>
<text x="82.00" y="194.60" font-family='"Liberation Sans", sans-serif' font-size="8.2" font-weight="bold" font-style="italic" fill="#FFFFFF" text-anchor="start" textLength="85.00" lengthAdjust="spacingAndGlyphs" >1. Only change yellow colour cells</text>
<text x="82.00" y="204.60" font-family='"Liberation Sans", sans-serif' font-size="8.2" font-weight="bold" font-style="italic" fill="#FFFFFF" text-anchor="start" textLength="151.60" lengthAdjust="spacingAndGlyphs" >2. If you would like to add TEAM, please add within Row 4-7</text>
<text x="82.00" y="214.00" font-family='"Liberation Sans", sans-serif' font-size="8.2" font-weight="bold" font-style="italic" fill="#FFFFFF" text-anchor="start" textLength="203.00" lengthAdjust="spacingAndGlyphs" >3. This is instruction tab, please proceed to next REPORT tab for your data key in.</text>
<rect x="456" y="199.9" width="141.6" height="186.6" rx="1.2" fill="#FFFFFF" stroke="#CD6E33" stroke-width="1.5"/>
<text x="489.30" y="220.10" font-family='"Liberation Sans", sans-serif' font-size="15" font-weight="bold" fill="#1A1A1A" text-anchor="start" textLength="75.60" lengthAdjust="spacingAndGlyphs" >Sales by Team</text>
<path d="M525.8,228.70 A57.50,75.90 0 0 1 582.83,314.27 L574.57,312.86 A49.17,64.90 0 0 0 525.8,239.70 Z" fill="#1F4E79"/>
<path d="M525.8,241.30 A47.95,63.30 0 0 1 571.33,284.73 L563.42,288.18 A39.62,52.30 0 0 0 525.8,252.30 Z" fill="#2E75B6"/>
<path d="M525.8,253.80 A38.48,50.80 0 0 1 562.99,317.67 L554.94,314.84 A30.15,39.80 0 0 0 525.8,264.80 Z" fill="#9DC3E6"/>
<path d="M525.8,267.00 A28.48,37.60 0 0 1 554.22,302.02 L545.90,302.78 A20.15,26.60 0 0 0 525.8,278.00 Z" fill="#BDD7EE"/>
<text transform="translate(521.30,235.00) scale(0.580,1)" font-family='"Liberation Sans", sans-serif' font-size="8.4" font-weight="bold" fill="#1A1A1A" text-anchor="end" >Team 1</text>
<text transform="translate(528.70,238.30) scale(0.600,1)" font-family='"Liberation Sans", sans-serif' font-size="8.4" font-weight="bold" fill="#1A1A1A" text-anchor="start" >27%</text>
<text transform="translate(521.30,247.50) scale(0.580,1)" font-family='"Liberation Sans", sans-serif' font-size="8.4" font-weight="bold" fill="#1A1A1A" text-anchor="end" >Team 2</text>
<text transform="translate(528.70,250.50) scale(0.600,1)" font-family='"Liberation Sans", sans-serif' font-size="8.4" font-weight="bold" fill="#1A1A1A" text-anchor="start" >20%</text>
<text transform="translate(521.30,260.50) scale(0.580,1)" font-family='"Liberation Sans", sans-serif' font-size="8.4" font-weight="bold" fill="#1A1A1A" text-anchor="end" >Team 3</text>
<text transform="translate(528.70,263.30) scale(0.600,1)" font-family='"Liberation Sans", sans-serif' font-size="8.4" font-weight="bold" fill="#1A1A1A" text-anchor="start" >29%</text>
<text transform="translate(521.30,273.30) scale(0.580,1)" font-family='"Liberation Sans", sans-serif' font-size="8.4" font-weight="bold" fill="#1A1A1A" text-anchor="end" >Team 4</text>
<text transform="translate(528.70,276.30) scale(0.600,1)" font-family='"Liberation Sans", sans-serif' font-size="8.4" font-weight="bold" fill="#1A1A1A" text-anchor="start" >24%</text>
<text transform="translate(461.80,370.70) scale(1.000,1)" font-family='"Liberation Sans", sans-serif' font-size="9.2" font-weight="bold" fill="#D6284A" textLength="45.70" lengthAdjust="spacing" >PREMIUM</text>
<text transform="translate(513.50,370.70) scale(0.880,1)" font-family='"Liberation Sans", sans-serif' font-size="9.2" font-weight="bold" fill="#D6284A" textLength="31.02" lengthAdjust="spacing" >EXCEL</text>
<text transform="translate(545.50,370.70) scale(0.980,1)" font-family='"Liberation Sans", sans-serif' font-size="9.2" font-weight="bold" fill="#D6284A" textLength="50.10" lengthAdjust="spacing" >TEMPLATE</text>
<rect x="60" y="391" width="538.3" height="188.7" rx="1.2" fill="#FFFFFF" stroke="#CD6E33" stroke-width="1.5"/>
<text x="142.70" y="410.00" font-family='"Liberation Sans", sans-serif' font-size="9.6" font-weight="bold" fill="#595959" text-anchor="start" textLength="81.60" lengthAdjust="spacingAndGlyphs" >Annual Sales By Team</text>
<line x1="96.30" y1="561.00" x2="580.00" y2="561.00" stroke="#E3E3E3" stroke-width="1.2" />
<text transform="translate(90.30,564.40) scale(0.700,1)" font-family='"Liberation Sans", sans-serif' font-size="9.6" font-weight="normal" fill="#6A6A6A" text-anchor="end" >0</text>
<line x1="96.30" y1="538.25" x2="580.00" y2="538.25" stroke="#E3E3E3" stroke-width="1.2" />
<text transform="translate(90.30,541.65) scale(0.700,1)" font-family='"Liberation Sans", sans-serif' font-size="9.6" font-weight="normal" fill="#6A6A6A" text-anchor="end" >50</text>
<line x1="96.30" y1="515.50" x2="580.00" y2="515.50" stroke="#E3E3E3" stroke-width="1.2" />
<text transform="translate(90.30,518.90) scale(0.700,1)" font-family='"Liberation Sans", sans-serif' font-size="9.6" font-weight="normal" fill="#6A6A6A" text-anchor="end" >100</text>
<line x1="96.30" y1="492.75" x2="580.00" y2="492.75" stroke="#E3E3E3" stroke-width="1.2" />
<text transform="translate(90.30,496.15) scale(0.700,1)" font-family='"Liberation Sans", sans-serif' font-size="9.6" font-weight="normal" fill="#6A6A6A" text-anchor="end" >150</text>
<line x1="96.30" y1="470.00" x2="580.00" y2="470.00" stroke="#E3E3E3" stroke-width="1.2" />
<text transform="translate(90.30,473.40) scale(0.700,1)" font-family='"Liberation Sans", sans-serif' font-size="9.6" font-weight="normal" fill="#6A6A6A" text-anchor="end" >200</text>
<line x1="96.30" y1="447.25" x2="580.00" y2="447.25" stroke="#E3E3E3" stroke-width="1.2" />
<text transform="translate(90.30,450.65) scale(0.700,1)" font-family='"Liberation Sans", sans-serif' font-size="9.6" font-weight="normal" fill="#6A6A6A" text-anchor="end" >250</text>
<line x1="96.30" y1="424.50" x2="580.00" y2="424.50" stroke="#E3E3E3" stroke-width="1.2" />
<text transform="translate(90.30,427.90) scale(0.700,1)" font-family='"Liberation Sans", sans-serif' font-size="9.6" font-weight="normal" fill="#6A6A6A" text-anchor="end" >300</text>
<text transform="translate(586.30,564.50) scale(0.720,1)" font-family='"Liberation Sans", sans-serif' font-size="10.2" font-weight="normal" fill="#6A6A6A" text-anchor="start" >0</text>
<text transform="translate(586.30,549.33) scale(0.720,1)" font-family='"Liberation Sans", sans-serif' font-size="10.2" font-weight="normal" fill="#6A6A6A" text-anchor="start" >100</text>
<text transform="translate(586.30,534.17) scale(0.720,1)" font-family='"Liberation Sans", sans-serif' font-size="10.2" font-weight="normal" fill="#6A6A6A" text-anchor="start" >200</text>
<text transform="translate(586.30,519.00) scale(0.720,1)" font-family='"Liberation Sans", sans-serif' font-size="10.2" font-weight="normal" fill="#6A6A6A" text-anchor="start" >300</text>
<text transform="translate(586.30,503.83) scale(0.720,1)" font-family='"Liberation Sans", sans-serif' font-size="10.2" font-weight="normal" fill="#6A6A6A" text-anchor="start" >400</text>
<text transform="translate(586.30,488.67) scale(0.720,1)" font-family='"Liberation Sans", sans-serif' font-size="10.2" font-weight="normal" fill="#6A6A6A" text-anchor="start" >500</text>
<text transform="translate(586.30,473.50) scale(0.720,1)" font-family='"Liberation Sans", sans-serif' font-size="10.2" font-weight="normal" fill="#6A6A6A" text-anchor="start" >600</text>
<text transform="translate(586.30,458.33) scale(0.720,1)" font-family='"Liberation Sans", sans-serif' font-size="10.2" font-weight="normal" fill="#6A6A6A" text-anchor="start" >700</text>
<text transform="translate(586.30,443.17) scale(0.720,1)" font-family='"Liberation Sans", sans-serif' font-size="10.2" font-weight="normal" fill="#6A6A6A" text-anchor="start" >800</text>
<text transform="translate(586.30,428.00) scale(0.720,1)" font-family='"Liberation Sans", sans-serif' font-size="10.2" font-weight="normal" fill="#6A6A6A" text-anchor="start" >900</text>
<rect x="102.00" y="501.85" width="7.40" height="59.15" fill="#1F4E79" />
<rect x="109.40" y="506.40" width="7.40" height="54.60" fill="#2E75B6" />
<rect x="116.80" y="456.35" width="7.40" height="104.65" fill="#9DC3E6" />
<rect x="124.20" y="515.50" width="7.40" height="45.50" fill="#BDD7EE" />
<rect x="142.33" y="497.30" width="7.40" height="63.70" fill="#1F4E79" />
<rect x="149.73" y="510.95" width="7.40" height="50.05" fill="#2E75B6" />
<rect x="157.13" y="474.55" width="7.40" height="86.45" fill="#9DC3E6" />
<rect x="164.53" y="492.75" width="7.40" height="68.25" fill="#BDD7EE" />
<rect x="182.66" y="479.10" width="7.40" height="81.90" fill="#1F4E79" />
<rect x="190.06" y="484.56" width="7.40" height="76.44" fill="#2E75B6" />
<rect x="197.46" y="492.75" width="7.40" height="68.25" fill="#9DC3E6" />
<rect x="204.86" y="495.02" width="7.40" height="65.98" fill="#BDD7EE" />
<rect x="222.99" y="470.00" width="7.40" height="91.00" fill="#1F4E79" />
<rect x="230.39" y="492.75" width="7.40" height="68.25" fill="#2E75B6" />
<rect x="237.79" y="447.25" width="7.40" height="113.75" fill="#9DC3E6" />
<rect x="245.19" y="465.45" width="7.40" height="95.55" fill="#BDD7EE" />
<rect x="263.32" y="475.00" width="7.40" height="86.00" fill="#1F4E79" />
<rect x="270.72" y="495.02" width="7.40" height="65.98" fill="#2E75B6" />
<rect x="278.12" y="433.60" width="7.40" height="127.40" fill="#9DC3E6" />
<rect x="285.52" y="469.55" width="7.40" height="91.45" fill="#BDD7EE" />
<rect x="303.65" y="506.40" width="7.40" height="54.60" fill="#1F4E79" />
<rect x="311.05" y="499.57" width="7.40" height="61.43" fill="#2E75B6" />
<rect x="318.45" y="469.55" width="7.40" height="91.45" fill="#9DC3E6" />
<rect x="325.85" y="479.10" width="7.40" height="81.90" fill="#BDD7EE" />
<rect x="343.98" y="456.35" width="7.40" height="104.65" fill="#1F4E79" />
<rect x="351.38" y="479.10" width="7.40" height="81.90" fill="#2E75B6" />
<rect x="358.78" y="470.91" width="7.40" height="90.09" fill="#9DC3E6" />
<rect x="366.18" y="465.45" width="7.40" height="95.55" fill="#BDD7EE" />
<rect x="384.31" y="461.81" width="7.40" height="99.19" fill="#1F4E79" />
<rect x="391.71" y="470.00" width="7.40" height="91.00" fill="#2E75B6" />
<rect x="399.11" y="449.52" width="7.40" height="111.48" fill="#9DC3E6" />
<rect x="406.51" y="480.92" width="7.40" height="80.08" fill="#BDD7EE" />
<rect x="424.64" y="470.91" width="7.40" height="90.09" fill="#1F4E79" />
<rect x="432.04" y="484.56" width="7.40" height="76.44" fill="#2E75B6" />
<rect x="439.44" y="454.53" width="7.40" height="106.47" fill="#9DC3E6" />
<rect x="446.84" y="474.55" width="7.40" height="86.45" fill="#BDD7EE" />
<rect x="464.97" y="447.25" width="7.40" height="113.75" fill="#1F4E79" />
<rect x="472.37" y="511.86" width="7.40" height="49.14" fill="#2E75B6" />
<rect x="479.77" y="470.00" width="7.40" height="91.00" fill="#9DC3E6" />
<rect x="487.17" y="492.75" width="7.40" height="68.25" fill="#BDD7EE" />
<rect x="505.30" y="451.80" width="7.40" height="109.20" fill="#1F4E79" />
<rect x="512.70" y="505.03" width="7.40" height="55.97" fill="#2E75B6" />
<rect x="520.10" y="470.91" width="7.40" height="90.09" fill="#9DC3E6" />
<rect x="527.50" y="485.93" width="7.40" height="75.08" fill="#BDD7EE" />
<rect x="545.63" y="435.42" width="7.40" height="125.58" fill="#1F4E79" />
<rect x="553.03" y="497.30" width="7.40" height="63.70" fill="#2E75B6" />
<rect x="560.43" y="479.10" width="7.40" height="81.90" fill="#9DC3E6" />
<rect x="567.83" y="460.90" width="7.40" height="100.10" fill="#BDD7EE" />
<line x1="96.63" y1="561.00" x2="96.63" y2="564.00" stroke="#D0D0D0" stroke-width="1" />
<line x1="136.96" y1="561.00" x2="136.96" y2="564.00" stroke="#D0D0D0" stroke-width="1" />
<line x1="177.29" y1="561.00" x2="177.29" y2="564.00" stroke="#D0D0D0" stroke-width="1" />
<line x1="217.62" y1="561.00" x2="217.62" y2="564.00" stroke="#D0D0D0" stroke-width="1" />
<line x1="257.95" y1="561.00" x2="257.95" y2="564.00" stroke="#D0D0D0" stroke-width="1" />
<line x1="298.28" y1="561.00" x2="298.28" y2="564.00" stroke="#D0D0D0" stroke-width="1" />
<line x1="338.62" y1="561.00" x2="338.62" y2="564.00" stroke="#D0D0D0" stroke-width="1" />
<line x1="378.94" y1="561.00" x2="378.94" y2="564.00" stroke="#D0D0D0" stroke-width="1" />
<line x1="419.27" y1="561.00" x2="419.27" y2="564.00" stroke="#D0D0D0" stroke-width="1" />
<line x1="459.60" y1="561.00" x2="459.60" y2="564.00" stroke="#D0D0D0" stroke-width="1" />
<line x1="499.93" y1="561.00" x2="499.93" y2="564.00" stroke="#D0D0D0" stroke-width="1" />
<line x1="540.26" y1="561.00" x2="540.26" y2="564.00" stroke="#D0D0D0" stroke-width="1" />
<line x1="580.60" y1="561.00" x2="580.60" y2="564.00" stroke="#D0D0D0" stroke-width="1" />
<text transform="translate(116.80,574.00) scale(0.720,1)" font-family='"Liberation Sans", sans-serif' font-size="9.6" font-weight="normal" fill="#595959" text-anchor="middle" stroke="#595959" stroke-width="0.3">Jan</text>
<polyline points="116.80,473.03 157.13,471.52 197.46,463.48 237.79,438.15 278.12,437.39 318.45,464.54 358.78,436.94 399.11,433.75 439.44,441.18 479.77,453.62 520.10,450.89 560.43,437.24" fill="none" stroke="#FF2020" stroke-width="1.6"/>
<ellipse cx="116.80" cy="473.03" rx="2.9" ry="3.6" fill="#BDD7EE" stroke="#C55A11" stroke-width="1.3"/>
<text transform="translate(116.80,464.43) scale(0.670,1)" font-family='"Liberation Sans", sans-serif' font-size="10.2" font-weight="normal" fill="#3A3A3A" text-anchor="middle" stroke="#3A3A3A" stroke-width="0.25">580</text>
<ellipse cx="157.13" cy="471.52" rx="2.9" ry="3.6" fill="#BDD7EE" stroke="#C55A11" stroke-width="1.3"/>
<text transform="translate(157.13,462.92) scale(0.670,1)" font-family='"Liberation Sans", sans-serif' font-size="10.2" font-weight="normal" fill="#3A3A3A" text-anchor="middle" stroke="#3A3A3A" stroke-width="0.25">590</text>
<ellipse cx="197.46" cy="463.48" rx="2.9" ry="3.6" fill="#BDD7EE" stroke="#C55A11" stroke-width="1.3"/>
<text transform="translate(197.46,454.88) scale(0.670,1)" font-family='"Liberation Sans", sans-serif' font-size="10.2" font-weight="normal" fill="#3A3A3A" text-anchor="middle" stroke="#3A3A3A" stroke-width="0.25">643</text>
<ellipse cx="237.79" cy="438.15" rx="2.9" ry="3.6" fill="#BDD7EE" stroke="#C55A11" stroke-width="1.3"/>
<text transform="translate(237.79,429.55) scale(0.670,1)" font-family='"Liberation Sans", sans-serif' font-size="10.2" font-weight="normal" fill="#3A3A3A" text-anchor="middle" stroke="#3A3A3A" stroke-width="0.25">810</text>
<ellipse cx="278.12" cy="437.39" rx="2.9" ry="3.6" fill="#BDD7EE" stroke="#C55A11" stroke-width="1.3"/>
<text transform="translate(278.12,428.79) scale(0.670,1)" font-family='"Liberation Sans", sans-serif' font-size="10.2" font-weight="normal" fill="#3A3A3A" text-anchor="middle" stroke="#3A3A3A" stroke-width="0.25">815</text>
<ellipse cx="318.45" cy="464.54" rx="2.9" ry="3.6" fill="#BDD7EE" stroke="#C55A11" stroke-width="1.3"/>
<text transform="translate(318.45,455.94) scale(0.670,1)" font-family='"Liberation Sans", sans-serif' font-size="10.2" font-weight="normal" fill="#3A3A3A" text-anchor="middle" stroke="#3A3A3A" stroke-width="0.25">636</text>
<ellipse cx="358.78" cy="436.94" rx="2.9" ry="3.6" fill="#BDD7EE" stroke="#C55A11" stroke-width="1.3"/>
<text transform="translate(358.78,428.34) scale(0.670,1)" font-family='"Liberation Sans", sans-serif' font-size="10.2" font-weight="normal" fill="#3A3A3A" text-anchor="middle" stroke="#3A3A3A" stroke-width="0.25">818</text>
<ellipse cx="399.11" cy="433.75" rx="2.9" ry="3.6" fill="#BDD7EE" stroke="#C55A11" stroke-width="1.3"/>
<text transform="translate(399.11,425.15) scale(0.670,1)" font-family='"Liberation Sans", sans-serif' font-size="10.2" font-weight="normal" fill="#3A3A3A" text-anchor="middle" stroke="#3A3A3A" stroke-width="0.25">839</text>
<ellipse cx="439.44" cy="441.18" rx="2.9" ry="3.6" fill="#BDD7EE" stroke="#C55A11" stroke-width="1.3"/>
<text transform="translate(439.44,432.58) scale(0.670,1)" font-family='"Liberation Sans", sans-serif' font-size="10.2" font-weight="normal" fill="#3A3A3A" text-anchor="middle" stroke="#3A3A3A" stroke-width="0.25">790</text>
<ellipse cx="479.77" cy="453.62" rx="2.9" ry="3.6" fill="#BDD7EE" stroke="#C55A11" stroke-width="1.3"/>
<text transform="translate(479.77,445.02) scale(0.670,1)" font-family='"Liberation Sans", sans-serif' font-size="10.2" font-weight="normal" fill="#3A3A3A" text-anchor="middle" stroke="#3A3A3A" stroke-width="0.25">708</text>
<ellipse cx="520.10" cy="450.89" rx="2.9" ry="3.6" fill="#BDD7EE" stroke="#C55A11" stroke-width="1.3"/>
<text transform="translate(520.10,442.29) scale(0.670,1)" font-family='"Liberation Sans", sans-serif' font-size="10.2" font-weight="normal" fill="#3A3A3A" text-anchor="middle" stroke="#3A3A3A" stroke-width="0.25">726</text>
<ellipse cx="560.43" cy="437.24" rx="2.9" ry="3.6" fill="#BDD7EE" stroke="#C55A11" stroke-width="1.3"/>
<text transform="translate(560.43,428.64) scale(0.670,1)" font-family='"Liberation Sans", sans-serif' font-size="10.2" font-weight="normal" fill="#3A3A3A" text-anchor="middle" stroke="#3A3A3A" stroke-width="0.25">816</text>
<rect x="395.00" y="403.00" width="10.60" height="4.20" fill="#1F4E79" />
<text transform="translate(407.20,408.40) scale(0.720,1)" font-family='"Liberation Sans", sans-serif' font-size="9.6" font-weight="normal" fill="#595959" text-anchor="start" >Team 1</text>
<rect x="437.00" y="403.00" width="10.60" height="4.20" fill="#2E75B6" />
<text transform="translate(449.20,408.40) scale(0.720,1)" font-family='"Liberation Sans", sans-serif' font-size="9.6" font-weight="normal" fill="#595959" text-anchor="start" >Team 2</text>
<rect x="479.00" y="403.00" width="10.60" height="4.20" fill="#9DC3E6" />
<text transform="translate(491.20,408.40) scale(0.720,1)" font-family='"Liberation Sans", sans-serif' font-size="9.6" font-weight="normal" fill="#595959" text-anchor="start" >Team 3</text>
<rect x="521.00" y="403.00" width="10.60" height="4.20" fill="#BDD7EE" />
<text transform="translate(533.20,408.40) scale(0.720,1)" font-family='"Liberation Sans", sans-serif' font-size="9.6" font-weight="normal" fill="#595959" text-anchor="start" >Team 4</text>
<line x1="562.50" y1="404.60" x2="574.00" y2="404.60" stroke="#FF2020" stroke-width="1.4" />
<ellipse cx="567.7" cy="404.6" rx="2.7" ry="3.3" fill="#BDD7EE" stroke="#C55A11" stroke-width="1.2"/>
<text transform="translate(574.30,408.40) scale(0.720,1)" font-family='"Liberation Sans", sans-serif' font-size="9.6" font-weight="normal" fill="#595959" text-anchor="start" >Total</text>
<path d="M79,584.2 C80.17,583.73 83.62,582.28 86.00,581.40 C88.38,580.52 89.85,579.87 93.30,578.90 C96.75,577.93 102.25,576.70 106.70,575.60 C111.15,574.50 115.57,573.40 120.00,572.30 C124.43,571.20 128.30,570.30 133.30,569.00 C138.30,567.70 144.43,565.97 150.00,564.50 C155.57,563.03 161.15,561.75 166.70,560.20 C172.25,558.65 177.75,557.00 183.30,555.20 C188.85,553.40 194.43,551.37 200.00,549.40 C205.57,547.43 211.15,545.70 216.70,543.40 C222.25,541.10 227.75,538.12 233.30,535.60 C238.85,533.08 244.43,530.73 250.00,528.30 C255.57,525.87 261.15,523.47 266.70,521.00 C272.25,518.53 277.75,515.88 283.30,513.50 C288.85,511.12 294.43,508.82 300.00,506.70 C305.57,504.58 311.15,502.62 316.70,500.80 C322.25,498.98 327.75,497.28 333.30,495.80 C338.85,494.32 344.30,492.95 350.00,491.90 C355.70,490.85 362.50,490.05 367.50,489.50 C372.50,488.95 375.83,488.68 380.00,488.60 C384.17,488.52 388.33,488.63 392.50,489.00 C396.67,489.37 400.83,490.08 405.00,490.80 C409.17,491.52 413.33,492.40 417.50,493.30 C421.67,494.20 425.83,495.20 430.00,496.20 C434.17,497.20 438.33,498.27 442.50,499.30 C446.67,500.33 450.83,501.35 455.00,502.40 C459.17,503.45 463.33,504.63 467.50,505.60 C471.67,506.57 475.83,507.43 480.00,508.20 C484.17,508.97 488.33,509.65 492.50,510.20 C496.67,510.75 500.83,511.15 505.00,511.50 C509.17,511.85 513.33,512.28 517.50,512.30 C521.67,512.32 526.25,511.98 530.00,511.60 C533.75,511.22 536.67,510.65 540.00,510.00 C543.33,509.35 546.95,508.50 550.00,507.70 C553.05,506.90 554.97,506.23 558.30,505.20 C561.63,504.17 566.52,502.65 570.00,501.50 C573.48,500.35 575.87,499.55 579.20,498.30 C582.53,497.05 586.53,495.48 590.00,494.00 C593.47,492.52 598.33,490.17 600.00,489.40 L600,600 L79,600 Z" fill="#DA1F3A"/>
<text transform="translate(236.66,553.5) scale(1.517,1)" font-family='"Liberation Sans", sans-serif' font-size="23.8" fill="#FFFFFF" stroke="#FFFFFF" stroke-width="0.95" stroke-linejoin="round">M</text>
<text transform="translate(266.71,553.5) scale(1.507,1)" font-family='"Liberation Sans", sans-serif' font-size="23.8" fill="#FFFFFF" stroke="#FFFFFF" stroke-width="0.95" stroke-linejoin="round">o</text>
<text transform="translate(287.27,553.5) scale(1.578,1)" font-family='"Liberation Sans", sans-serif' font-size="23.8" fill="#FFFFFF" stroke="#FFFFFF" stroke-width="0.95" stroke-linejoin="round">n</text>
<text transform="translate(308.90,553.5) scale(1.690,1)" font-family='"Liberation Sans", sans-serif' font-size="23.8" fill="#FFFFFF" stroke="#FFFFFF" stroke-width="0.95" stroke-linejoin="round">t</text>
<text transform="translate(321.08,553.5) scale(1.470,1)" font-family='"Liberation Sans", sans-serif' font-size="23.8" fill="#FFFFFF" stroke="#FFFFFF" stroke-width="0.95" stroke-linejoin="round">h</text>
<text transform="translate(341.73,553.5) scale(1.401,1)" font-family='"Liberation Sans", sans-serif' font-size="23.8" fill="#FFFFFF" stroke="#FFFFFF" stroke-width="0.95" stroke-linejoin="round">l</text>
<text transform="translate(349.88,553.5) scale(1.349,1)" font-family='"Liberation Sans", sans-serif' font-size="23.8" fill="#FFFFFF" stroke="#FFFFFF" stroke-width="0.95" stroke-linejoin="round">y</text>
<text transform="translate(377.19,553.5) scale(1.185,1)" font-family='"Liberation Sans", sans-serif' font-size="23.8" fill="#FFFFFF" stroke="#FFFFFF" stroke-width="0.95" stroke-linejoin="round">S</text>
<text transform="translate(397.85,553.5) scale(1.234,1)" font-family='"Liberation Sans", sans-serif' font-size="23.8" fill="#FFFFFF" stroke="#FFFFFF" stroke-width="0.95" stroke-linejoin="round">a</text>
<text transform="translate(416.43,553.5) scale(1.401,1)" font-family='"Liberation Sans", sans-serif' font-size="23.8" fill="#FFFFFF" stroke="#FFFFFF" stroke-width="0.95" stroke-linejoin="round">l</text>
<text transform="translate(424.90,553.5) scale(1.335,1)" font-family='"Liberation Sans", sans-serif' font-size="23.8" fill="#FFFFFF" stroke="#FFFFFF" stroke-width="0.95" stroke-linejoin="round">e</text>
<text transform="translate(443.76,553.5) scale(1.436,1)" font-family='"Liberation Sans", sans-serif' font-size="23.8" fill="#FFFFFF" stroke="#FFFFFF" stroke-width="0.95" stroke-linejoin="round">s</text>
<text transform="translate(469.20,553.5) scale(1.080,1)" font-family='"Liberation Sans", sans-serif' font-size="23.8" fill="#FFFFFF" stroke="#FFFFFF" stroke-width="0.95" stroke-linejoin="round">R</text>
<text transform="translate(488.55,553.5) scale(1.426,1)" font-family='"Liberation Sans", sans-serif' font-size="23.8" fill="#FFFFFF" stroke="#FFFFFF" stroke-width="0.95" stroke-linejoin="round">e</text>
<text transform="translate(508.05,553.5) scale(1.669,1)" font-family='"Liberation Sans", sans-serif' font-size="23.8" fill="#FFFFFF" stroke="#FFFFFF" stroke-width="0.95" stroke-linejoin="round">p</text>
<text transform="translate(531.81,553.5) scale(1.507,1)" font-family='"Liberation Sans", sans-serif' font-size="23.8" fill="#FFFFFF" stroke="#FFFFFF" stroke-width="0.95" stroke-linejoin="round">o</text>
<text transform="translate(552.42,553.5) scale(1.719,1)" font-family='"Liberation Sans", sans-serif' font-size="23.8" fill="#FFFFFF" stroke="#FFFFFF" stroke-width="0.95" stroke-linejoin="round">r</text>
<text transform="translate(567.52,553.5) scale(1.846,1)" font-family='"Liberation Sans", sans-serif' font-size="23.8" fill="#FFFFFF" stroke="#FFFFFF" stroke-width="0.95" stroke-linejoin="round">t</text>
<text x="327.50" y="579.00" font-family='"Liberation Serif", serif' font-size="12.8" font-weight="normal" fill="#F6E4E6" text-anchor="start" textLength="165.00" lengthAdjust="spacingAndGlyphs" >teamofficeintro@gmail.com</text>
<rect x="0.00" y="0.00" width="79.50" height="76.30" fill="#000000" />
<rect x="0.00" y="76.30" width="79.50" height="523.70" fill="#DA1F3A" />
<g>
<defs><linearGradient id="xg" x1="0" y1="0" x2="1" y2="1"><stop offset="0" stop-color="#18884F"/><stop offset="0.5" stop-color="#117E43"/><stop offset="1" stop-color="#0B6631"/></linearGradient>
<clipPath id="xc"><rect x="32.9" y="13.8" width="42.6" height="52" rx="2.2"/></clipPath></defs>
<g clip-path="url(#xc)">
<rect x="32.9" y="13.8" width="42.6" height="52" fill="#185C37"/>
<rect x="32.9" y="13.8" width="21.6" height="13" fill="#21A366"/>
<rect x="54.5" y="13.8" width="21" height="13" fill="#33C481"/>
<rect x="32.9" y="26.8" width="21.6" height="13" fill="#107C41"/>
<rect x="54.5" y="26.8" width="21" height="13" fill="#21A366"/>
<rect x="32.9" y="39.8" width="21.6" height="13" fill="#185C37"/>
<rect x="54.5" y="39.8" width="21" height="13" fill="#107C41"/>
</g>
<rect x="20.4" y="26.4" width="28.6" height="28.6" rx="2" fill="#000" opacity="0.3" transform="translate(1,1)"/>
<rect x="19.9" y="25.7" width="28.6" height="28.6" rx="2" fill="url(#xg)"/>
<path d="M27.2,31.8 L31.2,31.8 L34.2,37.4 L37.2,31.8 L41.0,31.8 L36.2,39.8 L41.2,47.9 L37.1,47.9 L34.1,42.3 L31.0,47.9 L27.0,47.9 L32.0,39.8 Z" fill="#FFFFFF"/>
</g>
<text transform="translate(39.7,0) rotate(90)" x="91.09 111.44 122.29 134.32 153.31 207.37 225.82 241.49 263.26 276.44 295.88 305.26 320.03 331.30 350.67 370.88 389.66 403.51 426.51 442.01 460.66 503.76 517.69 536.88 556.80" y="0" font-family='"Liberation Sans", sans-serif' font-size="30.5" fill="#FFFFFF">httpsakashicreportcomshop</text>
<line x1="35.50" y1="180.00" x2="63.20" y2="191.60" stroke="#FFFFFF" stroke-width="2.1" />
<line x1="35.50" y1="195.00" x2="63.20" y2="206.60" stroke="#FFFFFF" stroke-width="2.1" />
<line x1="35.50" y1="489.60" x2="63.20" y2="501.40" stroke="#FFFFFF" stroke-width="2.1" />
<circle cx="41.5" cy="173.8" r="1.9" fill="#FFFFFF"/>
<circle cx="52.8" cy="173.8" r="1.9" fill="#FFFFFF"/>
<circle cx="41.4" cy="420.25" r="1.9" fill="#FFFFFF"/>
</svg>
</body></html>
